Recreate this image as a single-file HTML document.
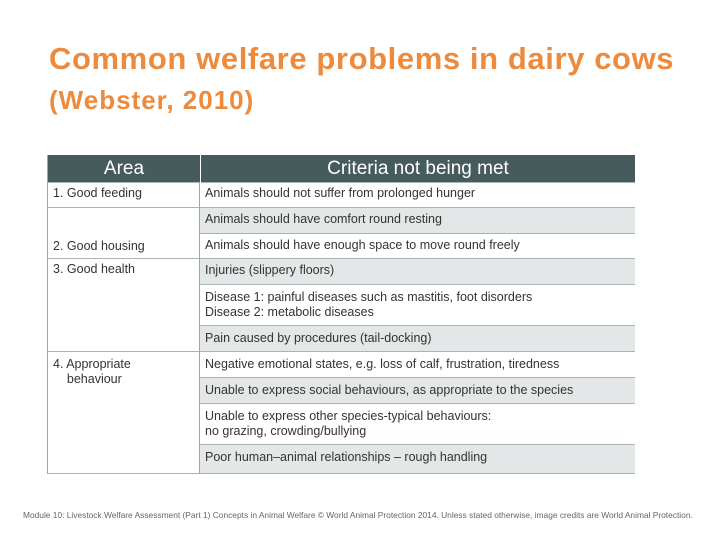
<!DOCTYPE html>
<html><head><meta charset="utf-8"><style>
body{margin:0;width:720px;height:540px;background:#fff;font-family:"Liberation Sans",sans-serif;position:relative;overflow:hidden}
.t1{position:absolute;left:49px;top:41px;font-size:31px;font-weight:bold;letter-spacing:0.6px;color:#ee8a3c;white-space:nowrap}
.t2{position:absolute;left:49px;top:85px;font-size:26px;font-weight:bold;letter-spacing:1px;color:#ee8a3c;white-space:nowrap}
.tbl{position:absolute;left:47px;top:155px;width:587px;height:319px;border-left:1px solid #9aa;}
.c{position:absolute;box-sizing:border-box;font-size:12.5px;color:#333;padding-left:5px;line-height:15px;border-bottom:1px solid #aab4b4}
.h{background:#455b5c;color:#fff;font-size:19px;text-align:center;line-height:28px;padding:0}
.g{background:#e4e7e7}
.foot{position:absolute;left:23px;top:510px;font-size:8.4px;color:#666;white-space:nowrap}
</style></head><body>
<div class="t1">Common welfare problems in dairy cows</div>
<div class="t2">(Webster, 2010)</div>
<div class="tbl">
<div class="c h" style="left:0;top:0;width:152px;height:28px">Area</div>
<div class="c h" style="left:153px;top:0;width:434px;height:28px">Criteria not being met</div>
<div style="position:absolute;left:151px;top:28px;width:1px;height:291px;background:#9aa"></div>
<div class="c" style="left:0;top:28px;width:151px;height:25px;padding-top:3px">1. Good feeding</div>
<div class="c" style="left:0;top:53px;width:151px;height:51px;padding-top:31px">2. Good housing</div>
<div class="c" style="left:0;top:104px;width:151px;height:93px;padding-top:3px">3. Good health</div>
<div class="c" style="left:0;top:197px;width:151px;height:122px;padding-top:5px">4. Appropriate<br>&nbsp;&nbsp;&nbsp;&nbsp;behaviour</div>
<div class="c" style="left:152px;top:28px;width:435px;height:25px;padding-top:3px">Animals should not suffer from prolonged hunger</div>
<div class="c g" style="left:152px;top:53px;width:435px;height:26px;padding-top:4px">Animals should have comfort round resting</div>
<div class="c" style="left:152px;top:79px;width:435px;height:25px;padding-top:4px">Animals should have enough space to move round freely</div>
<div class="c g" style="left:152px;top:104px;width:435px;height:26px;padding-top:4px">Injuries (slippery floors)</div>
<div class="c" style="left:152px;top:130px;width:435px;height:41px;padding-top:5px">Disease 1: painful diseases such as mastitis, foot disorders<br>Disease 2: metabolic diseases</div>
<div class="c g" style="left:152px;top:171px;width:435px;height:26px;padding-top:5px">Pain caused by procedures (tail-docking)</div>
<div class="c" style="left:152px;top:197px;width:435px;height:26px;padding-top:5px">Negative emotional states, e.g. loss of calf, frustration, tiredness</div>
<div class="c g" style="left:152px;top:223px;width:435px;height:26px;padding-top:5px">Unable to express social behaviours, as appropriate to the species</div>
<div class="c" style="left:152px;top:249px;width:435px;height:41px;padding-top:5px">Unable to express other species-typical behaviours:<br>no grazing, crowding/bullying</div>
<div class="c g" style="left:152px;top:290px;width:435px;height:29px;padding-top:5px">Poor human–animal relationships – rough handling</div>
</div>
<div class="foot">Module 10: Livestock Welfare Assessment (Part 1) Concepts in Animal Welfare © World Animal Protection 2014. Unless stated otherwise, image credits are World Animal Protection.</div>
</body></html>
